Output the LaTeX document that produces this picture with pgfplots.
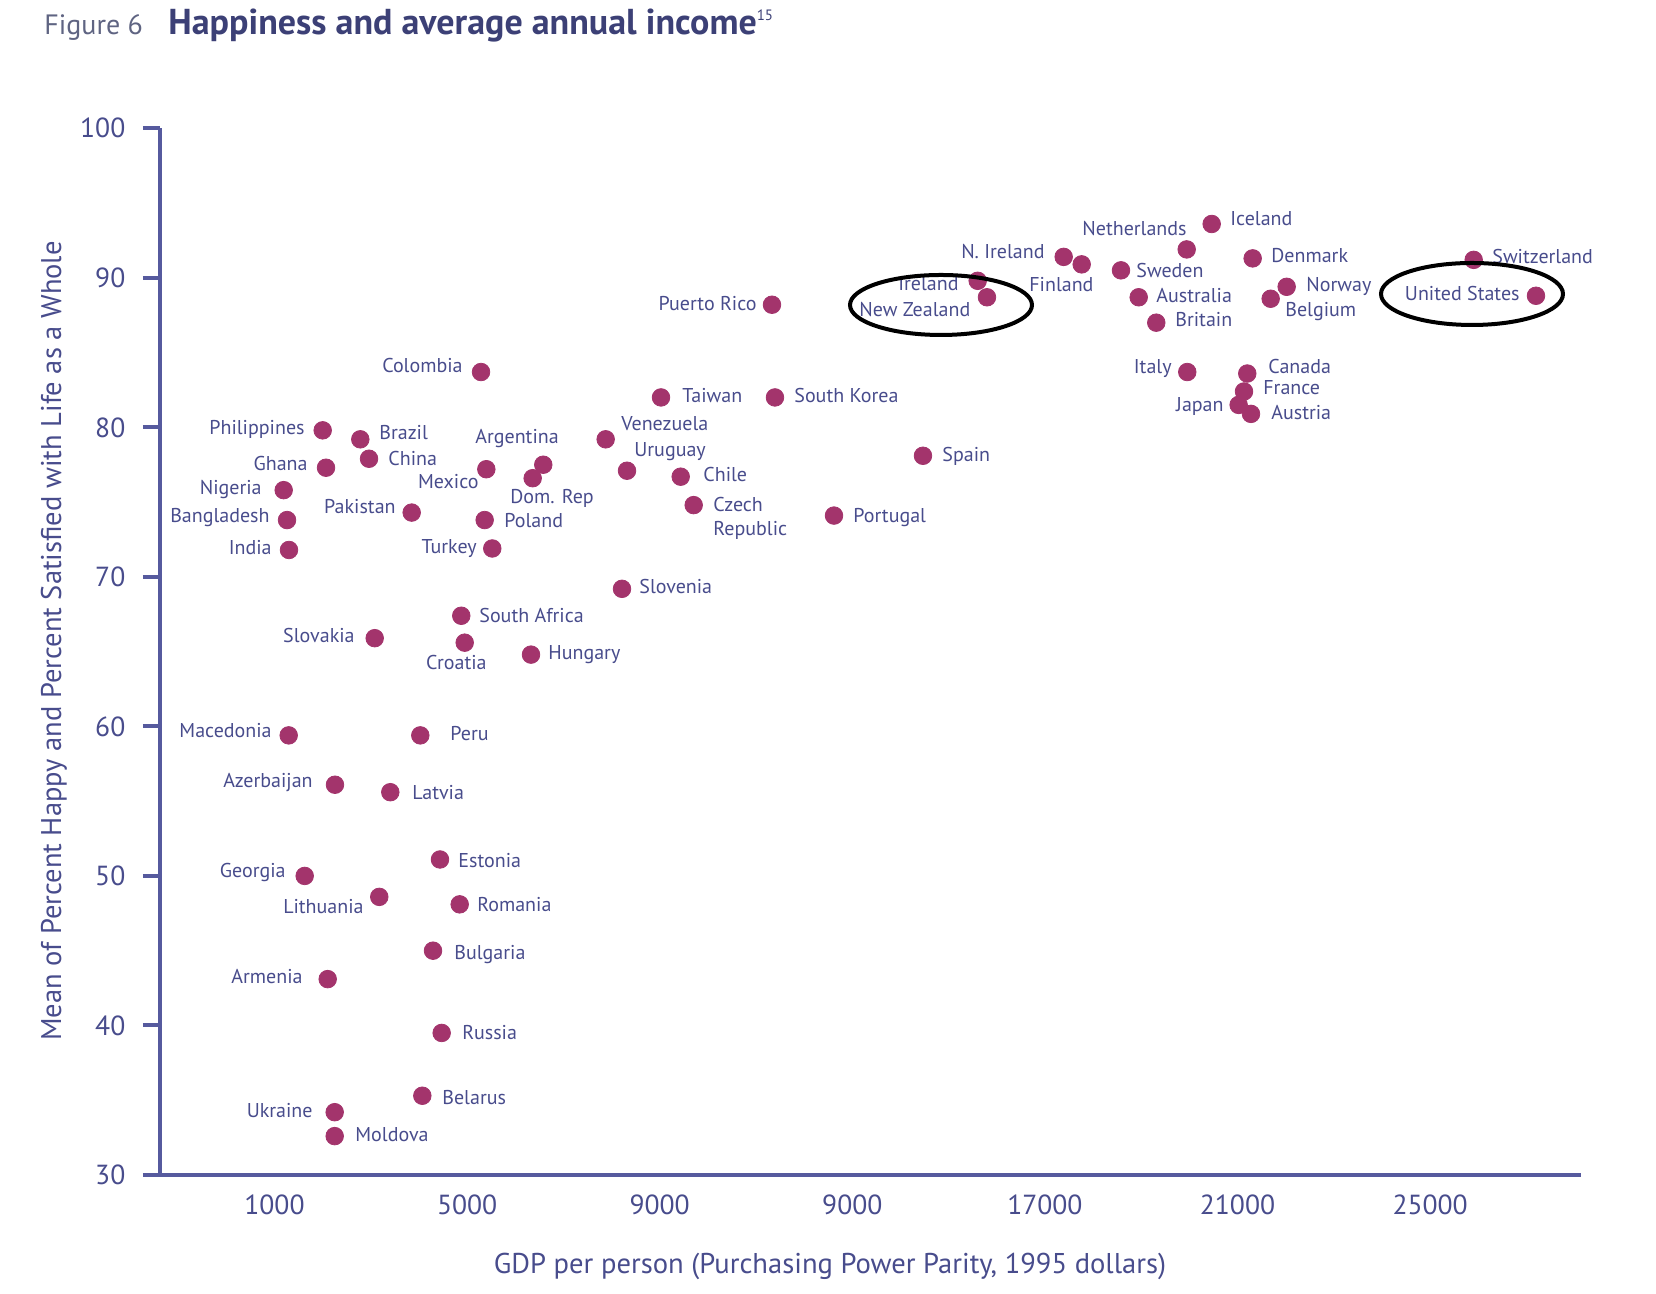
\documentclass[border=0pt]{standalone}
\usepackage{pgfplots}
\pgfplotsset{compat=1.18}
\usepackage{fontspec}
\setmainfont{PT Sans}
\definecolor{txt}{RGB}{72,76,140}
\definecolor{axc}{RGB}{86,90,158}
\definecolor{dotc}{RGB}{163,52,108}
\definecolor{figc}{RGB}{95,100,130}
\definecolor{titc}{RGB}{60,64,118}

\pgfplotstableread{
x y
5289 83.7
2001 79.8
2782 79.2
2963 77.9
2070 77.3
1191 75.8
1260 73.8
1301 71.8
3849 74.3
5399 77.2
6582 77.5
6362 76.6
5365 73.8
5523 71.9
7878 79.2
8321 77.1
8217 69.2
4879 67.4
4950 65.6
3081 65.9
6327 64.8
9027 82.0
11394 82.0
9436 76.7
9706 74.8
12620 74.1
14468 78.1
11332 88.2
17390 91.4
17764 90.9
15604 89.8
15797 88.7
19945 91.9
20464 93.6
18580 90.5
18948 88.7
19313 87.0
21315 91.3
22021 89.4
21689 88.6
19957 83.7
21203 83.6
21135 82.4
21024 81.5
21280 80.9
25905 91.2
27199 88.8
4028 59.4
1295 59.4
2256 56.1
3405 55.6
4437 51.1
1627 50.0
3176 48.6
4846 48.1
4292 45.0
2105 43.1
4472 39.5
4070 35.3
2250 34.2
2250 32.6
}\countries

\begin{document}
\begin{tikzpicture}
\path[use as bounding box] (-80pt,-59.5pt) rectangle (748pt,587.5pt);
\begin{axis}[
  at={(0pt,0pt)}, anchor=south west,
  scale only axis, width=710.5pt, height=523.35pt,
  xmin=-1378, xmax=28134, ymin=30, ymax=100,
  axis x line*=bottom, axis y line*=left,
  axis line style={draw=axc, line width=2pt, -},
  xtick={1000,5000,9000,13000,17000,21000,25000},
  xticklabels={1000,5000,9000,9000,17000,21000,25000},
  scaled x ticks=false,
  ytick={30,40,...,100},
  x tick style={draw=none},
  y tick style={draw=axc, line width=2pt},
  tick align=outside, major tick length=8.5pt,
  ticklabel style={font=\fontsize{13.8}{16}\selectfont, text=txt},
  xticklabel style={yshift=2pt},
  yticklabel style={xshift=-5.3pt},
  /pgf/number format/assume math mode=true,
  clip=false,
]
\addplot[dotc, only marks, mark=*, mark size=4.4pt, mark options={fill=dotc, draw=dotc}] table {\countries};
\end{axis}
\begin{scope}[x=0.5pt,y=-0.5pt,shift={(-80pt,587.5pt)},
  lab/.style={font=\fontsize{10}{12}\selectfont, text=txt, inner sep=0pt}]
\node[lab,anchor=mid east] at (463,368) {Colombia};
\node[lab,anchor=mid east] at (305,430) {Philippines};
\node[lab,anchor=mid west] at (379,435) {Brazil};
\node[lab,anchor=mid west] at (388,461) {China};
\node[lab,anchor=mid east] at (308,466) {Ghana};
\node[lab,anchor=mid east] at (262,490) {Nigeria};
\node[lab,anchor=mid east] at (270,518) {Bangladesh};
\node[lab,anchor=mid east] at (272,550) {India};
\node[lab,anchor=mid east] at (396,509) {Pakistan};
\node[lab,anchor=mid east] at (479,484) {Mexico};
\node[lab,anchor=mid west] at (475,439) {Argentina};
\node[lab,anchor=mid west] at (510,499) {Dom. Rep};
\node[lab,anchor=mid west] at (504,523) {Poland};
\node[lab,anchor=mid east] at (477,549) {Turkey};
\node[lab,anchor=mid west] at (621,426) {Venezuela};
\node[lab,anchor=mid west] at (634,452) {Uruguay};
\node[lab,anchor=mid west] at (682,398) {Taiwan};
\node[lab,anchor=mid west] at (794,398) {South Korea};
\node[lab,anchor=mid west] at (703,477) {Chile};
\node[lab,anchor=mid west] at (713,507) {Czech};
\node[lab,anchor=mid west] at (713,531) {Republic};
\node[lab,anchor=mid west] at (853,518) {Portugal};
\node[lab,anchor=mid west] at (942,457) {Spain};
\node[lab,anchor=mid west] at (639,589) {Slovenia};
\node[lab,anchor=mid west] at (479,618) {South Africa};
\node[lab,anchor=mid east] at (487,665) {Croatia};
\node[lab,anchor=mid east] at (355,638) {Slovakia};
\node[lab,anchor=mid west] at (548,655) {Hungary};
\node[lab,anchor=mid east] at (757,306) {Puerto Rico};
\node[lab,anchor=mid east] at (1045,254) {N. Ireland};
\node[lab,anchor=mid east] at (959,286) {Ireland};
\node[lab,anchor=mid west] at (859,312) {New Zealand};
\node[lab,anchor=mid west] at (1029,287) {Finland};
\node[lab,anchor=mid east] at (1187,231) {Netherlands};
\node[lab,anchor=mid west] at (1230,221) {Iceland};
\node[lab,anchor=mid west] at (1136,273) {Sweden};
\node[lab,anchor=mid west] at (1156,298) {Australia};
\node[lab,anchor=mid west] at (1175,322) {Britain};
\node[lab,anchor=mid west] at (1271,258) {Denmark};
\node[lab,anchor=mid west] at (1306,287) {Norway};
\node[lab,anchor=mid west] at (1285,312) {Belgium};
\node[lab,anchor=mid west] at (1492,259) {Switzerland};
\node[lab,anchor=mid east] at (1520,296) {United States};
\node[lab,anchor=mid east] at (1172,369) {Italy};
\node[lab,anchor=mid west] at (1268,369) {Canada};
\node[lab,anchor=mid west] at (1263,390) {France};
\node[lab,anchor=mid east] at (1224,407) {Japan};
\node[lab,anchor=mid west] at (1271,415) {Austria};
\node[lab,anchor=mid west] at (450,736) {Peru};
\node[lab,anchor=mid west] at (412,795) {Latvia};
\node[lab,anchor=mid west] at (458,863) {Estonia};
\node[lab,anchor=mid east] at (364,909) {Lithuania};
\node[lab,anchor=mid west] at (477,907) {Romania};
\node[lab,anchor=mid west] at (454,955) {Bulgaria};
\node[lab,anchor=mid east] at (272,733) {Macedonia};
\node[lab,anchor=mid east] at (313,783) {Azerbaijan};
\node[lab,anchor=mid east] at (286,873) {Georgia};
\node[lab,anchor=mid east] at (303,979) {Armenia};
\node[lab,anchor=mid west] at (462,1035) {Russia};
\node[lab,anchor=mid west] at (442,1100) {Belarus};
\node[lab,anchor=mid east] at (313,1113) {Ukraine};
\node[lab,anchor=mid west] at (355,1137) {Moldova};
% titles and axis labels
\node[anchor=base west, inner sep=0pt, font=\fontsize{14}{17}\selectfont, text=figc] at (44,35) {Figure 6};
\node[anchor=base west, inner sep=0pt, font=\fontsize{18}{21}\selectfont\bfseries, text=titc] at (168,35) {Happiness and average annual income\raisebox{7pt}{\fontsize{7.5}{9}\selectfont\mdseries 15}};
\node[font=\fontsize{14.3}{17}\selectfont, text=txt] at (830,1266) {GDP per person (Purchasing Power Parity, 1995 dollars)};
\node[rotate=90, font=\fontsize{14.25}{17}\selectfont, text=txt] at (54,641) {Mean of Percent Happy and Percent Satisfied with Life as a Whole};
% ellipses
\draw[black, line width=2pt] (941,305) ellipse [x radius=45.5pt, y radius=15pt];
\draw[black, line width=2pt] (1472,294) ellipse [x radius=45.5pt, y radius=15.5pt];
\end{scope}
\end{tikzpicture}
\end{document}
